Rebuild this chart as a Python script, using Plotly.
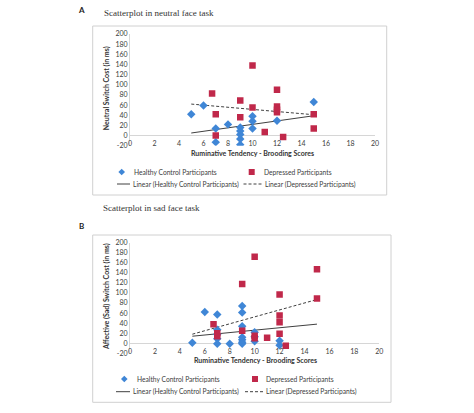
import plotly.graph_objects as go

# ---------------- data ----------------
neutral_hc_x = [5, 6, 7, 7, 8, 9, 9, 9, 9, 9, 10, 10, 10, 12, 15]
neutral_hc_y = [42, 59, 14, -13, 22, 16, 9, 2, -7, -18, 38, 28, 14, 29, 66]
neutral_dep_x = [6.7, 7, 7, 9, 9, 10, 10, 11, 12, 12, 12, 12, 12.5, 15, 15]
neutral_dep_y = [83, 42, 0, 69, 36, 138, 55, 7, 90, 57, 51, 46, -3, 42, 14]

sad_hc_x = [5, 6, 7, 7, 7, 7, 7, 8, 9, 9, 9, 9, 9, 9, 9, 10, 10, 10, 12, 12]
sad_hc_y = [1, 62, 57, 27, 18, 9, -1, -1, 74, 61, 34, 12, 7, 2, -1, 22, 13, 4, 5, -4]
sad_dep_x = [6.7, 7, 7, 9, 9, 10, 10, 10, 11, 12, 12, 12, 12, 12.5, 15, 15]
sad_dep_y = [38, 20, 14, 118, 25, 172, 15, 10, 11, 97, 55, 42, 19, -5, 147, 89]

trend_x = [5, 15]
neutral_hc_trend = [5, 39]
neutral_dep_trend = [62, 41]
sad_hc_trend = [14, 38]
sad_dep_trend = [18, 87]

x_ticks = [0, 2, 4, 6, 8, 10, 12, 14, 16, 18, 20]
y_ticks = [-20, 0, 20, 40, 60, 80, 100, 120, 140, 160, 180, 200]
y_tick_labels = ["-20", "0", "20", "40", "60", "80", "100", "120", "140", "160", "180", "200"]

hc_name = "Healthy Control Participants"
dep_name = "Depressed Participants"
lin_hc_name = "Linear (Healthy Control Participants)"
lin_dep_name = "Linear (Depressed Participants)"

# ---------------- style ----------------
W, H = 474, 413
BLUE = "#3f86d6"
RED = "#c0284a"
LINE = "#404040"
SANS = "Lato, 'Open Sans', sans-serif"
SERIF = "'Liberation Serif', 'DejaVu Serif', serif"
AXC = "#d6d6d6"
TXT = "#404040"


def px(x):
    return x / W


def py(y):
    return 1 - y / H


fig = go.Figure()

panels = [
    dict(xa="x", ya="y", hx=neutral_hc_x, hy=neutral_hc_y, dx=neutral_dep_x, dy=neutral_dep_y,
         ht=neutral_hc_trend, dt=neutral_dep_trend),
    dict(xa="x2", ya="y2", hx=sad_hc_x, hy=sad_hc_y, dx=sad_dep_x, dy=sad_dep_y,
         ht=sad_hc_trend, dt=sad_dep_trend),
]

for p in panels:
    fig.add_trace(go.Scatter(x=trend_x, y=p["ht"], mode="lines", name=lin_hc_name,
                             line=dict(color=LINE, width=1),
                             xaxis=p["xa"], yaxis=p["ya"]))
    fig.add_trace(go.Scatter(x=trend_x, y=p["dt"], mode="lines", name=lin_dep_name,
                             line=dict(color=LINE, width=1, dash="3px,2px"),
                             xaxis=p["xa"], yaxis=p["ya"]))
    fig.add_trace(go.Scatter(x=p["hx"], y=p["hy"], mode="markers", name=hc_name,
                             marker=dict(symbol="diamond", size=6.5, color=BLUE),
                             xaxis=p["xa"], yaxis=p["ya"]))
    fig.add_trace(go.Scatter(x=p["dx"], y=p["dy"], mode="markers", name=dep_name,
                             marker=dict(symbol="square", size=6.5, color=RED),
                             xaxis=p["xa"], yaxis=p["ya"]))

xcommon = dict(range=[0, 20], tickvals=x_ticks, showgrid=False, zeroline=False,
               showline=False, ticks="", tickfont=dict(family=SANS, size=7, color=TXT),
               anchor="free", fixedrange=True)
ycommon = dict(range=[-20, 200], tickvals=y_ticks, ticktext=y_tick_labels, showgrid=False,
               zeroline=True, zerolinecolor=AXC, zerolinewidth=1, showline=True, linecolor=AXC,
               linewidth=1, ticks="", tickfont=dict(family=SANS, size=7, color=TXT),
               fixedrange=True)

fig.update_layout(
    width=W, height=H, margin=dict(l=0, r=0, t=0, b=0, pad=0, autoexpand=False),
    paper_bgcolor="white", plot_bgcolor="white", showlegend=False,
    xaxis=dict(xcommon, domain=[px(130), px(375)], position=py(138)),
    yaxis=dict(ycommon, domain=[py(145.7), py(34)], anchor="x"),
    xaxis2=dict(xcommon, domain=[px(130), px(379.3)], position=py(346)),
    yaxis2=dict(ycommon, domain=[py(353.3), py(242.7)], anchor="x2"),
)

# panel boxes
for (x0, y0, x1, y1) in [(92.7, 26, 386.7, 195), (92.7, 235, 391, 402.3)]:
    fig.add_shape(type="rect", xref="paper", yref="paper",
                  x0=px(x0), x1=px(x1), y0=py(y1), y1=py(y0),
                  line=dict(color="#d0d0d0", width=1), fillcolor="rgba(0,0,0,0)", layer="below")

ann = []
ann.append(dict(text="<b>A</b>", x=px(81.7), y=py(10), font=dict(family=SANS, size=8, color="#222")))
ann.append(dict(text="Scatterplot in neutral face task", x=px(102.7), y=py(13.3), xanchor="left",
                font=dict(family=SERIF, size=9, color="#333")))
ann.append(dict(text="<b>B</b>", x=px(81.7), y=py(225.7), font=dict(family=SANS, size=8, color="#222")))
ann.append(dict(text="Scatterplot in sad face task", x=px(101.7), y=py(208.3), xanchor="left",
                font=dict(family=SERIF, size=9, color="#333")))
ann.append(dict(text="<b>Ruminative Tendency - Brooding Scores</b>", x=px(252.8), y=py(152.5),
                font=dict(family=SANS, size=7, color="#333")))
ann.append(dict(text="<b>Ruminative Tendency - Brooding Scores</b>", x=px(255), y=py(359.5),
                font=dict(family=SANS, size=7, color="#333")))
ann.append(dict(text="<b>Neutral Switch Cost (in ms)</b>", x=px(106), y=py(88.3), textangle=-90,
                font=dict(family=SANS, size=7, color="#333")))
ann.append(dict(text="<b>Affective (Sad) Switch Cost (in ms)</b>", x=px(106), y=py(297), textangle=-90,
                font=dict(family=SANS, size=7, color="#333")))

# ---- legends (drawn as layout decorations) ----
legend_rows = [
    (172, 184, 121.7, 133, 251.7, 262.7, 117, 130, 132, 243.5, 261.5, 264),
    (379, 391.7, 124.3, 136, 255, 265, 116, 130, 132, 245, 263, 265),
]
for (r1, r2, hmx, htx, dmx, dtx, s0, s1, stx, d0, d1, dtx2) in legend_rows:
    d = 3.3
    fig.add_shape(type="path", xref="paper", yref="paper",
                  path=f"M {px(hmx)} {py(r1 - d)} L {px(hmx + d)} {py(r1)} L {px(hmx)} {py(r1 + d)} L {px(hmx - d)} {py(r1)} Z",
                  fillcolor=BLUE, line=dict(width=0))
    s = 3.0
    fig.add_shape(type="rect", xref="paper", yref="paper",
                  x0=px(dmx - s), x1=px(dmx + s), y0=py(r1 + s), y1=py(r1 - s),
                  fillcolor=RED, line=dict(width=0))
    fig.add_shape(type="line", xref="paper", yref="paper",
                  x0=px(s0), x1=px(s1), y0=py(r2), y1=py(r2), line=dict(color=LINE, width=1))
    fig.add_shape(type="line", xref="paper", yref="paper",
                  x0=px(d0), x1=px(d1), y0=py(r2), y1=py(r2), line=dict(color=LINE, width=1, dash="3px,2px"))
    for (t, tx, ty) in [(hc_name, htx, r1), (dep_name, dtx, r1), (lin_hc_name, stx, r2), (lin_dep_name, dtx2, r2)]:
        ann.append(dict(text=t, x=px(tx), y=py(ty), xanchor="left",
                        font=dict(family=SANS, size=6.7, color=TXT)))

for a in ann:
    a.setdefault("xanchor", "center")
    a.update(xref="paper", yref="paper", yanchor="middle", showarrow=False, borderpad=0)
    fig.add_annotation(**a)

fig.write_html("out.html", config={"displayModeBar": False, "staticPlot": True},
               post_script="document.body.style.margin='0';document.body.style.overflow='hidden';")
